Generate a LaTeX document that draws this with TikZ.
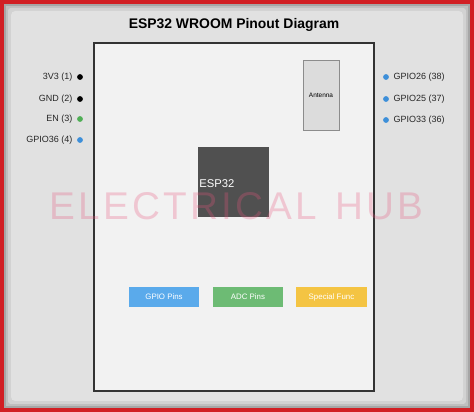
\documentclass[tikz,border=0pt]{standalone}
\usepackage{fontspec}
\setmainfont{Liberation Sans}
\usetikzlibrary{positioning}
\definecolor{framered}{HTML}{D11F24}
\definecolor{pagegray}{HTML}{E1E1E1}
\definecolor{boardfill}{HTML}{F2F2F2}
\definecolor{chipgray}{HTML}{505050}
\definecolor{antfill}{HTML}{DCDCDC}
\definecolor{pinblue}{HTML}{3D8FD9}
\definecolor{pingreen}{HTML}{4FAE55}
\definecolor{btnblue}{HTML}{5AAAEB}
\definecolor{btngreen}{HTML}{6DBB74}
\definecolor{btnyellow}{HTML}{F4C443}
\definecolor{markpink}{HTML}{E8557E}
\tikzset{
  pinlabel/.style={font=\fontsize{6.4}{7}\selectfont, text=black!85, inner sep=0pt},
  pindot/.style={circle, inner sep=0pt, minimum size=4.1pt},
  keybox/.style={minimum width=1.75cm, minimum height=0.5cm, inner sep=0pt,
    text=white, font=\fontsize{5.6}{6}\selectfont},
}
\begin{document}
\begin{tikzpicture}[x=0.025cm, y=-0.025cm]
          % frame and shadow
          \fill[framered] (0,0) rectangle (474,412);
          \fill[gray!70] (4,4) rectangle (470,408);
          \fill[gray!50] (6,6) rectangle (468,406);
          \fill[gray!35, rounded corners=2pt] (8,8) rectangle (466,404);
          \fill[pagegray, rounded corners=3pt] (11,11) rectangle (463,401);
          \useasboundingbox (0,0) rectangle (474,412);

          \node[font=\bfseries\fontsize{9.9}{12}\selectfont] (title) at (234,24.5) {ESP32 WROOM Pinout Diagram};

          % board
          \draw[black!80, line width=0.9pt, fill=boardfill] (94,43) rectangle (374,391);
          \node[draw=gray!90, line width=0.6pt, fill=antfill, minimum width=0.9cm, minimum height=1.75cm,
            inner sep=0pt, font=\fontsize{4.6}{5}\selectfont] (antenna) at (321,95) {Antenna};
          \node[fill=chipgray, minimum width=1.78cm, minimum height=1.75cm, inner sep=0pt] (chip) at (233.5,182) {};
          \node[anchor=west, text=white, font=\fontsize{8}{9}\selectfont, inner sep=0pt] (chiplabel)
            at ([xshift=1pt, yshift=-1pt]chip.west) {ESP32};

          % left pins
          \node[pindot, fill=black] (p1) at (80,77) {};
          \node[pindot, fill=black] (p2) at (80,99) {};
          \node[pindot, fill=pingreen] (p3) at (80,119) {};
          \node[pindot, fill=pinblue] (p4) at (80,140) {};
          \node[pinlabel, left=3pt of p1] (l1) {3V3 (1)};
          \node[pinlabel, left=3pt of p2] (l2) {GND (2)};
          \node[pinlabel, left=3pt of p3] (l3) {EN (3)};
          \node[pinlabel, left=3pt of p4] (l4) {GPIO36 (4)};

          % right pins
          \node[pindot, fill=pinblue] (p38) at (386,77) {};
          \node[pindot, fill=pinblue] (p37) at (386,99) {};
          \node[pindot, fill=pinblue] (p36) at (386,120) {};
          \node[pinlabel, right=3pt of p38] (l38) {GPIO26 (38)};
          \node[pinlabel, right=3pt of p37] (l37) {GPIO25 (37)};
          \node[pinlabel, right=3pt of p36] (l36) {GPIO33 (36)};

          % legend
          \node[keybox, fill=btnblue] (gpiokey) at (164,297) {GPIO Pins};
          \node[keybox, fill=btngreen] (adckey) at (248,297) {ADC Pins};
          \node[keybox, fill=btnyellow] (speckey) at (331.5,297) {Special Func};

          % watermark
          \node[text=markpink, opacity=0.28, inner sep=0pt,
            font=\fontsize{27.5}{30}\selectfont\addfontfeature{LetterSpace=8.5}] (mark) at (236.5,206)
            {ELECTRICAL\hspace{0.45cm}HUB};
      \end{tikzpicture}
\end{document}
